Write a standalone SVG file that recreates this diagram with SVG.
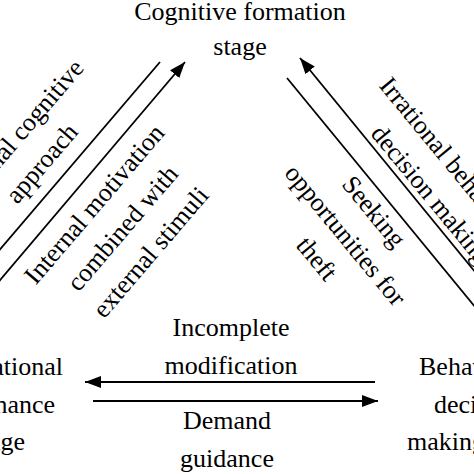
<svg xmlns="http://www.w3.org/2000/svg" width="474" height="474" viewBox="0 0 474 474">
<defs>
<style>
text{font-family:"Liberation Serif","Times New Roman",serif;font-size:26px;fill:#000}
.c{text-anchor:middle}
.e{text-anchor:end}
.ln{stroke:#000;stroke-width:1.8;fill:none}
</style>
<marker id="ah" viewBox="0 0 16 12" refX="16" refY="6" markerWidth="16" markerHeight="12" markerUnits="userSpaceOnUse" orient="auto">
<path d="M0,0 L16,6 L0,12 Z" fill="#000"/>
</marker>
</defs>
<rect width="474" height="474" fill="#fff"/>
<g id="connectors">
<line class="ln" x1="160" y1="62" x2="-10" y2="261"/>
<line class="ln" x1="-10" y1="292" x2="185" y2="62" marker-end="url(#ah)"/>
<line class="ln" x1="287" y1="78" x2="480" y2="313"/>
<line class="ln" x1="480" y1="278" x2="300" y2="58" marker-end="url(#ah)"/>
<line class="ln" x1="375" y1="382" x2="85" y2="382" marker-end="url(#ah)"/>
<line class="ln" x1="93" y1="401" x2="378" y2="401" marker-end="url(#ah)"/>
</g>
<g id="node-cognitive">
<text class="c" x="240" y="20">Cognitive formation</text>
<text class="c" x="240" y="55">stage</text>
</g>
<g id="node-left">
<text class="e" x="63" y="375">Irrational</text>
<text class="e" x="55" y="413">maintenance</text>
<text class="e" x="25" y="450">stage</text>
</g>
<g id="node-right">
<text x="419" y="375">Behavioral</text>
<text x="434" y="413">decision</text>
<text x="407" y="450">making stage</text>
</g>
<g id="labels">
<g transform="translate(440,161) rotate(50.5)">
<text class="c" x="0" y="0">Irrational behavior</text>
<text class="c" x="20" y="37">decision making</text>
</g>
<g transform="translate(20.1,144.7) rotate(-49.5)">
<text class="c" x="0" y="0">Irrational cognitive</text>
<text class="c" x="0" y="37">approach</text>
</g>
<g transform="translate(100.8,209.6) rotate(-49.5)">
<text class="c" x="0" y="0">Internal motivation</text>
<text class="c" x="0" y="37">combined with</text>
<text class="c" x="0" y="74">external stimuli</text>
</g>
<g transform="translate(338.8,240.6) rotate(50.5)">
<text class="c" x="0" y="-37">Seeking</text>
<text class="c" x="0" y="0">opportunities for</text>
<text class="c" x="0" y="37">theft</text>
</g>
<text class="c" x="231" y="336">Incomplete</text>
<text class="c" x="231" y="374">modification</text>
<text class="c" x="227" y="429">Demand</text>
<text class="c" x="227" y="467">guidance</text>
</g>
</svg>
